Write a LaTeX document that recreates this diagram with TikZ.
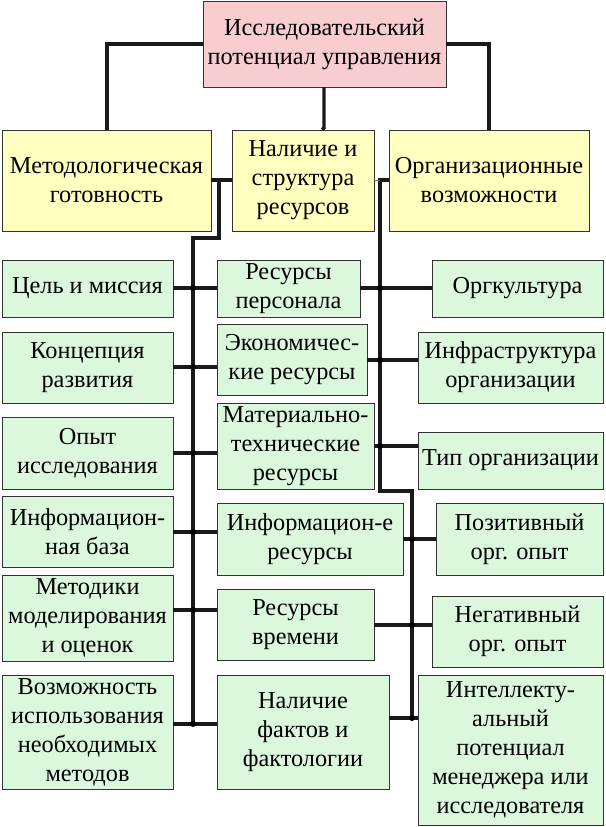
\documentclass[tikz,border=0pt]{standalone}
\usepackage{fontspec}
\setmainfont{Liberation Serif}
\definecolor{pinkb}{HTML}{F8CDD0}
\definecolor{yelb}{HTML}{FFFFC0}
\definecolor{grnb}{HTML}{DCF8DC}
\begin{document}
\begin{tikzpicture}[x=1pt,y=-1pt,
  bx/.style={draw=black!80,line width=0.9pt,inner sep=0pt,align=center,font=\fontsize{24.3}{29}\selectfont},
  ln/.style={line width=3.4pt,black!90},
  dt/.style={circle,fill=black,inner sep=0pt,minimum size=6pt}]
\useasboundingbox (0,0) rectangle (605,827);
\newcommand\bb[6]{\node[bx,fill=#6,minimum width={#3-#1},minimum height={#4-#2}] (#5) at ({(#1+#3)/2},{(#2+#4)/2})}
\bb{203}{1}{446}{87}{top}{pinkb}{Исследовательский\\потенциал управления};
\bb{2}{130}{211}{231}{m}{yelb}{Методологическая\\готовность};
\bb{232}{130}{374}{231}{n}{yelb}{Наличие и\\структура\\ресурсов};
\bb{389}{130}{589}{231}{o}{yelb}{Организационные\\возможности};
\bb{2}{260}{173}{317}{l1}{grnb}{Цель и миссия};
\bb{2}{332}{173}{403}{l2}{grnb}{Концепция\\развития};
\bb{2}{417}{173}{489}{l3}{grnb}{Опыт\\исследования};
\bb{2}{496}{173}{567}{l4}{grnb}{Информацион-\\ная база};
\bb{2}{575}{173}{661}{l5}{grnb}{Методики\\моделирования\\и оценок};
\bb{2}{675}{173}{789}{l6}{grnb}{Возможность\\использования\\необходимых\\методов};
\bb{217}{260}{360}{317}{c1}{grnb}{Ресурсы\\персонала};
\bb{217}{324}{367}{395}{c2}{grnb}{Экономичес-\\кие ресурсы};
\bb{217}{403}{374}{489}{c3}{grnb}{Материально-\\технические\\ресурсы};
\bb{217}{503}{403}{575}{c4}{grnb}{Информацион-е\\ресурсы};
\bb{217}{589}{374}{660}{c5}{grnb}{Ресурсы\\времени};
\bb{217}{675}{389}{789}{c6}{grnb}{Наличие\\фактов и\\фактологии};
\bb{432}{260}{603}{317}{r1}{grnb}{Оргкультура};
\bb{418}{332}{603}{403}{r2}{grnb}{Инфраструктура\\организации};
\bb{418}{432}{603}{489}{r3}{grnb}{Тип организации};
\bb{436}{503}{603}{575}{r4}{grnb}{Позитивный\\орг. опыт};
\bb{432}{596}{603}{667}{r5}{grnb}{Негативный\\орг. опыт};
\bb{418}{675}{603}{825}{r6}{grnb}{Интеллекту-\\альный\\потенциал\\менеджера или\\исследователя};
% top connectors
\draw[ln] (top.west|-0,44) -| (m.north-|107,0);
\draw[ln] (top.east|-0,44) -| (o.north-|489,0);
\draw[ln] (top.south-|324,0) -- (324,128) -- (n.north-|322,0);
% left bus
\draw[ln] (m.east|-0,180) -- (219,180) -- (219,238) -- (193,238) -- (193,724);
\draw[ln] (n.west|-0,180) -- (219,180);
\foreach \a/\b/\y in {l1/c1/288,l2/c2/367,l3/c3/453,l4/c4/532,l5/c5/610,l6/c6/724}{
  \draw[ln] (\a.east|-0,\y) -- (\b.west|-0,\y);
  \node[dt] at (193,\y) {};}
% right bus
\draw[ln] (o.west|-0,180) -- (380,180) -- (380,491) -- (412,491) -- (412,718);
\draw[line width=0.8pt,black!60] (n.east|-0,180) -- (380,180);
\foreach \a/\b/\y/\x in {c1/r1/288/380,c2/r2/360/380,c3/r3/446/380,c4/r4/539/412,c5/r5/625/412,c6/r6/718/412}{
  \draw[ln] (\a.east|-0,\y) -- (\b.west|-0,\y);
  \node[dt] at (\x,\y) {};}
\end{tikzpicture}
\end{document}
